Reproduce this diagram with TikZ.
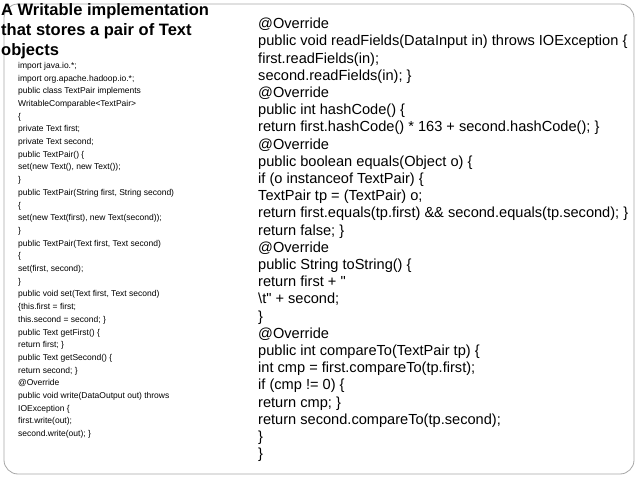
\documentclass[tikz,border=0pt]{standalone}
\usepackage{fontspec}
\setmainfont{Liberation Sans}
\newfontfamily\qfont{Liberation Sans}
\begin{document}
\begin{tikzpicture}[x=1pt,y=-1pt,
  frame/.style={draw=gray!70,line width=0.8pt,rounded corners=14pt},
  col/.style={anchor=north west,inner sep=0pt,align=left}]
\useasboundingbox (0,0) rectangle (638,478);
\draw[frame] (4,4) rectangle (634,474);
\node[col,font=\bfseries\fontsize{16.5}{20}\selectfont] (title) at (1,3) {A Writable implementation\\that stores a pair of Text\\objects};
\node[col,font=\fontsize{8.5}{12.7}\selectfont] (left) at (18,62) {import java.io.*;\\
import org.apache.hadoop.io.*;\\
public class TextPair implements\\
WritableComparable<TextPair>\\
\{\\
private Text first;\\
private Text second;\\
public TextPair() \{\\
set(new Text(), new Text());\\
\}\\
public TextPair(String first, String second)\\
\{\\
set(new Text(first), new Text(second));\\
\}\\
public TextPair(Text first, Text second)\\
\{\\
set(first, second);\\
\}\\
public void set(Text first, Text second)\\
\{this.first = first;\\
this.second = second; \}\\
public Text getFirst() \{\\
return first; \}\\
public Text getSecond() \{\\
return second; \}\\
@Override\\
public void write(DataOutput out) throws\\
IOException \{\\
first.write(out);\\
second.write(out); \}};
\node[col,font=\fontsize{14.6}{17.2}\selectfont] (right) at (258,18) {@Override\\
public void readFields(DataInput in) throws IOException \{\\
first.readFields(in);\\
second.readFields(in); \}\\
@Override\\
public int hashCode() \{\\
return first.hashCode() * 163 + second.hashCode(); \}\\
@Override\\
public boolean equals(Object o) \{\\
if (o instanceof TextPair) \{\\
TextPair tp = (TextPair) o;\\
return first.equals(tp.first) \&\& second.equals(tp.second); \}\\
return false; \}\\
@Override\\
public String toString() \{\\
return first + {\qfont"}\\
\textbackslash t{\qfont"} + second;\\
\}\\
@Override\\
public int compareTo(TextPair tp) \{\\
int cmp = first.compareTo(tp.first);\\
if (cmp != 0) \{\\
return cmp; \}\\
return second.compareTo(tp.second);\\
\}\\
\}};
\end{tikzpicture}
\end{document}
